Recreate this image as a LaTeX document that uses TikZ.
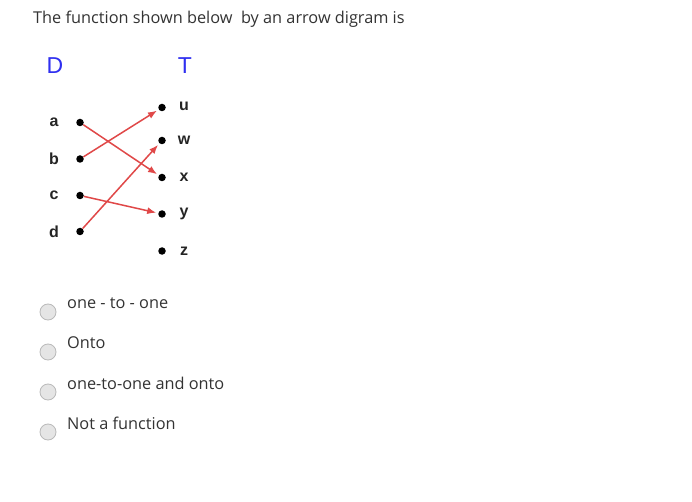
\documentclass[tikz,border=0pt]{standalone}
\usepackage{fontspec}
\setmainfont{Open Sans}
\newfontfamily\arialf{Liberation Sans}
\usetikzlibrary{arrows.meta}
\definecolor{txt}{HTML}{333333}
\definecolor{dblue}{HTML}{2F2FF0}
\definecolor{ared}{HTML}{E04848}
\tikzset{
  dotnode/.style={circle,fill=black,inner sep=0pt,minimum size=7.5pt},
  lbl/.style={font=\arialf\bfseries\fontsize{16}{18}\selectfont,text=txt!70!black,inner sep=0pt},
  head/.style={font=\arialf\fontsize{23}{26}\selectfont,text=dblue,inner sep=0pt},
  opt/.style={font=\fontsize{16.3}{19}\selectfont,text=txt,anchor=west,inner sep=0pt},
  radio/.style={circle,minimum size=16pt,inner sep=0pt,draw=gray!55,fill=gray!20,line width=0.8pt},
  maparrow/.style={draw=ared,line width=1.5pt,-{Latex[length=9pt,width=7pt]},shorten >=2pt}
}
\begin{document}
\begin{tikzpicture}[x=1pt,y=-1pt]
\useasboundingbox[fill=white] (0,0) rectangle (692,502);
\node[font=\fontsize{16.3}{19}\selectfont,text=txt,anchor=west,inner sep=0pt] (title) at (33,19) {The function shown below\ \ by an arrow digram is};
\node[head] (D) at (55,66) {D};
\node[head] (T) at (185,66) {T};
% left
\node[dotnode] (pa) at (80,122.5) {};
\node[dotnode] (pb) at (80,159) {};
\node[dotnode] (pc) at (80,195.5) {};
\node[dotnode] (pd) at (80,231.5) {};
\node[lbl] (la) at (54,122.5) {a};
\node[lbl] (lb) at (54,159) {b};
\node[lbl] (lc) at (54,195.5) {c};
\node[lbl] (ld) at (54,231.5) {d};
% right
\node[dotnode] (qu) at (162,107.5) {};
\node[dotnode] (qw) at (162,140.5) {};
\node[dotnode] (qx) at (162,177.5) {};
\node[dotnode] (qy) at (162,214) {};
\node[dotnode] (qz) at (162,251) {};
\node[lbl] (lu) at (184,106.5) {u};
\node[lbl] (lw) at (184,140.5) {w};
\node[lbl] (lx) at (184,177.5) {x};
\node[lbl] (ly) at (184,214) {y};
\node[lbl] (lz) at (184,251) {z};
% arrows
\draw[maparrow] (pa) -- (qx);
\draw[maparrow] (pb) -- (qu);
\draw[maparrow] (pc) -- (qy);
\draw[maparrow] (pd) -- (qw);
% options
\node[radio] (r1) at (48,312) {};
\node[radio] (r2) at (48,352) {};
\node[radio] (r3) at (48,392) {};
\node[radio] (r4) at (48,432) {};
\node[opt] (o1) at (67,303) {one - to - one};
\node[opt] (o2) at (67,343) {Onto};
\node[opt] (o3) at (67,383) {one-to-one and onto};
\node[opt] (o4) at (67,423) {Not a function};
\end{tikzpicture}
\end{document}
